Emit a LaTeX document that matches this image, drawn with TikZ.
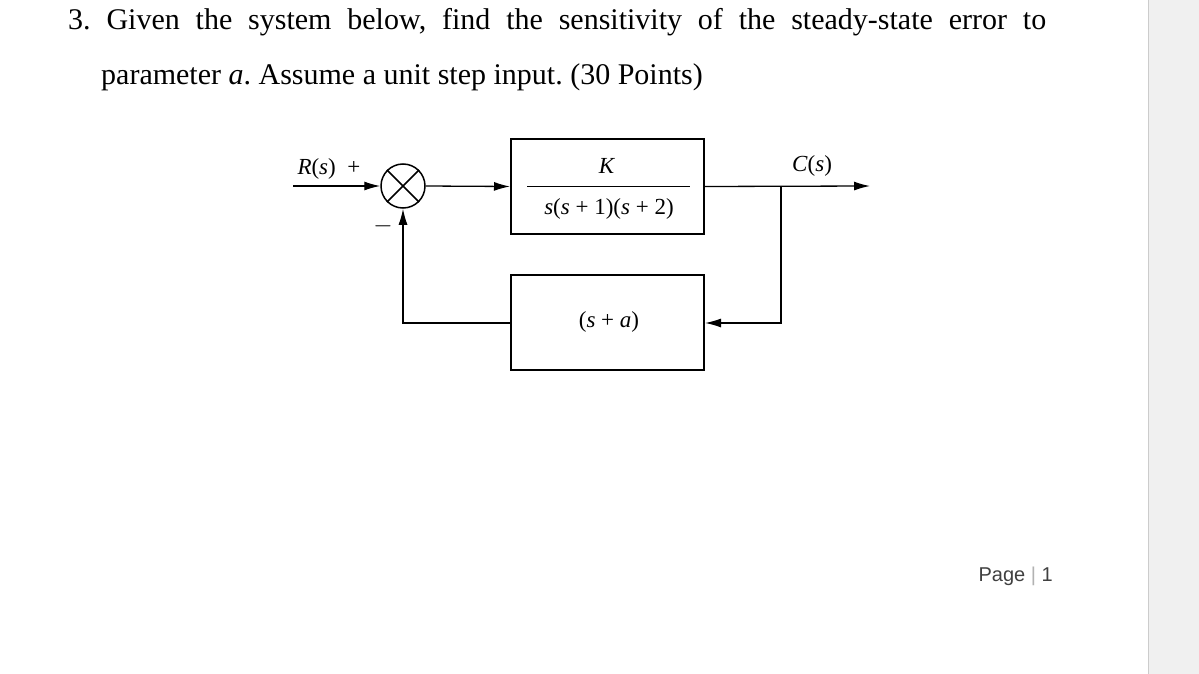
\documentclass[tikz,border=0pt]{standalone}
\usepackage{fontspec}
\setmainfont{Liberation Serif}
\setsansfont{Liberation Sans}
\usetikzlibrary{arrows.meta}
\frenchspacing
\begin{document}
\begin{tikzpicture}[x=1pt,y=-1pt,
  blk/.style={draw,line width=2pt,minimum width=193pt,minimum height=95pt},
  wire/.style={line width=1.3pt},
  arr/.style={wire,-{Latex[length=16pt,width=9pt]}},
  lbl/.style={font=\fontsize{23}{26}\selectfont}]
\fill[white] (0,0) rectangle (1199,674);
\useasboundingbox (0,0) rectangle (1199,674);
\fill[gray!12] (1148,0) rectangle (1199,674);
\draw[gray!40] (1148,0) -- (1148,674);
\node[anchor=base west,inner sep=0,font=\fontsize{30}{33}\selectfont] (t1) at (68,30)
  {\hbox to 978pt{3.\ Given the system below, find the sensitivity of the steady-state error to}};
\node[anchor=base west,inner sep=0,font=\fontsize{30}{33}\selectfont] (t2) at (101,85)
  {parameter \textit{a}. Assume a unit step input. (30 Points)};
\node[draw,circle,line width=1.5pt,minimum size=44pt,inner sep=0] (sum) at (403,186) {};
\draw[line width=1.5pt] (sum.north west)--(sum.south east) (sum.north east)--(sum.south west);
\coordinate (rin) at (293,186);
\node[lbl,anchor=base west] (rl) at (294,175) {\textit{R}(\textit{s})\ \ +};
\node[lbl] (minus) at (383,226) {$-$};
\node[blk] (g) at (607.5,186.5) {};
\node[lbl] (k) at (607,166) {\textit{K}};
\draw[line width=1pt] (527,186) -- (690,186);
\node[lbl] (den) at (609,209) {\textit{s}(\textit{s} + 1)(\textit{s} + 2)};
\node[blk] (h) at (607.5,322) {};
\node[lbl] (hl) at (609,322) {(\textit{s} + \textit{a})};
\coordinate (out) at (870,186);
\coordinate (br) at (781,186);
\coordinate (brd) at (781,323);
\coordinate (fb) at (403,323);
\node[lbl] (cl) at (812,166) {\textit{C}(\textit{s})};
\draw[arr] (rin) -- (sum.west);
\draw[arr] (sum.east) -- (g.west);
\draw[arr] (g.east) -- (out);
\draw[arr] (br) -- (brd) -- (h.east |- brd);
\draw[arr] (h.west |- fb) -- (fb) -- (sum.south);
\node[anchor=base west,font=\sffamily\fontsize{20}{24}\selectfont,text=black!75] (pg) at (975,581) {Page {\color{gray!60}|} 1};
\end{tikzpicture}
\end{document}
